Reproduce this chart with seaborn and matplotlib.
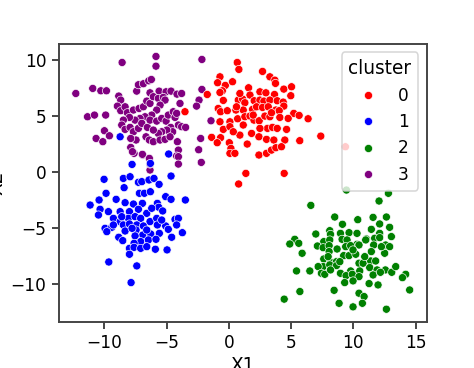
import pandas as pd
import matplotlib
matplotlib.use("Agg")
import matplotlib.pyplot as plt
import seaborn as sns

# cluster points (x1, x2)
cluster_0 = [(0.67, 9.79), (0.8, 9.17), (2.7, 8.99), (3.29, 8.51), (3.69, 8.21), (3.74, 7.92),
             (-0.72, 8.51), (-0.91, 7.98), (-0.29, 7.74), (0.29, 8.07), (-0.53, 7.26), (-0.72, 7.11),
             (-1.74, 6.93), (1.58, 7.53), (1.69, 6.88), (2.49, 7.17), (2.97, 7.08), (3.66, 6.93),
             (4.41, 7.41), (5.03, 7.62), (4.97, 6.82), (-0.45, 6.4), (0.75, 6.43), (1.1, 6.52),
             (1.28, 6.19), (2.03, 6.37), (2.49, 6.43), (2.81, 6.34), (3.29, 6.43), (3.88, 6.37),
             (4.36, 6.25), (4.41, 5.89), (-0.86, 5.68), (-0.67, 5.39), (-0.13, 5.48), (0.56, 5.54),
             (1.15, 5.54), (1.9, 5.6), (2.22, 5.83), (2.7, 5.77), (3.16, 5.83), (3.77, 5.54),
             (4.04, 5.48), (5.21, 5.24), (5.64, 5.06), (6.36, 4.76), (-0.72, 4.49), (0.08, 4.49),
             (0.7, 4.76), (1.28, 4.94), (1.69, 5.0), (2.01, 4.64), (2.43, 4.58), (2.89, 5.0),
             (3.29, 4.94), (3.42, 5.3), (4.09, 4.88), (4.76, 4.79), (-0.45, 3.81), (0.08, 4.05),
             (3.1, 3.9), (3.5, 3.99), (3.88, 3.9), (4.63, 3.81), (0.88, 3.3), (1.82, 3.45),
             (2.41, 3.15), (3.02, 2.92), (3.61, 2.86), (4.49, 2.86), (5.69, 2.8), (7.38, 3.21),
             (-1.39, 3.1), (-0.67, 3.07), (-0.94, 2.62), (0.03, 2.62), (0.16, 2.11), (0.08, 1.67),
             (0.48, 1.67), (1.47, 2.5), (2.41, 1.52), (3.02, 1.67), (3.42, 1.96), (3.77, 2.17),
             (4.22, 2.26), (1.36, -0.12), (4.44, -0.12), (0.78, -1.07), (0.61, 5.83), (0.88, 7.02),
             (1.95, 5.09), (2.49, 3.9), (1.15, 4.2), (0.35, 3.6), (-3.53, 5.39), (9.36, 2.26)]

cluster_1 = [(-4.84, 1.61), (-7.78, 0.68), (-6.31, 0.77), (-4.65, -0.36), (-10.03, -0.65),
             (-8.48, -0.57), (-7.94, -0.42), (-7.27, -0.92), (-7.0, -0.86), (-6.42, -0.71),
             (-6.02, -0.57), (-5.61, -1.1), (-8.42, -1.4), (-7.19, -1.9), (-6.79, -1.9),
             (-6.31, -1.76), (-9.87, -1.9), (-10.43, -2.5), (-11.15, -2.95), (-9.06, -2.44),
             (-10.35, -3.33), (-10.48, -3.84), (-9.68, -3.54), (-8.34, -2.74), (-7.67, -2.86),
             (-6.95, -2.8), (-5.75, -2.8), (-5.08, -2.2), (-4.65, -2.44), (-3.5, -2.5),
             (-8.74, -3.54), (-7.99, -3.54), (-7.27, -3.33), (-6.6, -3.69), (-5.64, -3.15),
             (-5.32, -3.48), (-9.28, -4.14), (-8.74, -4.43), (-8.07, -4.14), (-7.54, -3.99),
             (-7.09, -4.14), (-6.34, -4.43), (-5.8, -4.14), (-9.95, -5.03), (-9.41, -4.94),
             (-8.48, -4.73), (-7.99, -4.64), (-7.4, -4.73), (-6.87, -4.82), (-5.75, -4.73),
             (-5.08, -4.82), (-4.33, -4.23), (-4.06, -4.14), (-4.2, -4.73), (-4.87, -5.12),
             (-3.74, -5.42), (-9.81, -5.33), (-8.34, -5.27), (-7.46, -5.18), (-6.92, -5.63),
             (-6.28, -5.54), (-5.59, -5.48), (-4.6, -5.83), (-8.85, -5.83), (-8.53, -6.13),
             (-7.54, -5.71), (-7.09, -6.22), (-6.47, -6.07), (-5.86, -6.01), (-7.62, -6.37),
             (-7.99, -6.82), (-7.62, -6.73), (-7.09, -6.82), (-6.6, -6.67), (-5.91, -6.9),
             (-4.97, -6.96), (-7.99, -7.35), (-9.65, -8.04), (-7.4, -8.39), (-7.86, -9.88),
             (-8.74, 3.15), (-8.61, -3.99), (-7.78, -5.03), (-6.6, -5.18), (-5.4, -4.29),
             (-6.2, -3.24), (-9.28, -4.73)]

cluster_2 = [(9.44, -1.61), (12.06, -2.59), (12.81, -1.9), (6.58, -2.98), (8.5, -4.02), (10.35, -4.26),
             (11.58, -4.05), (12.65, -4.02), (9.12, -4.67), (12.11, -4.64), (12.91, -4.94), (6.98, -5.54),
             (8.1, -5.24), (8.16, -5.57), (8.96, -5.48), (9.65, -5.42), (10.29, -5.48), (11.44, -5.12),
             (12.11, -5.48), (5.29, -6.01), (4.89, -6.43), (5.61, -6.37), (7.62, -6.22), (8.1, -6.07),
             (9.09, -6.01), (9.49, -6.07), (10.29, -6.46), (11.04, -5.98), (11.71, -5.92), (12.11, -5.86),
             (13.05, -5.77), (7.11, -6.61), (7.57, -6.76), (8.05, -6.58), (8.69, -6.88), (9.38, -6.67),
             (9.78, -6.58), (10.45, -6.52), (10.99, -6.07), (11.63, -6.52), (12.59, -6.52), (12.91, -6.67),
             (5.88, -7.26), (8.05, -7.11), (9.22, -7.47), (9.65, -7.47), (10.19, -7.35), (11.44, -7.11),
             (12.51, -7.26), (7.62, -7.77), (8.16, -8.07), (8.64, -8.01), (10.45, -8.15), (10.78, -8.15),
             (11.39, -7.95), (11.79, -7.95), (7.57, -8.45), (7.17, -8.45), (8.1, -8.3), (8.64, -8.36),
             (9.78, -8.84), (10.51, -8.84), (11.31, -8.54), (11.9, -8.75), (12.57, -8.75), (13.08, -8.96),
             (13.4, -8.45), (5.43, -8.84), (6.5, -8.84), (7.43, -9.05), (7.7, -9.14), (8.16, -8.75),
             (8.96, -9.05), (9.41, -9.26), (9.91, -9.14), (10.45, -9.35), (11.58, -9.2), (12.17, -8.96),
             (14.2, -9.14), (13.94, -9.44), (9.3, -9.88), (9.97, -9.73), (11.26, -9.97), (11.98, -10.09),
             (8.45, -10.57), (10.45, -10.83), (10.86, -11.13), (5.7, -10.68), (4.44, -11.36),
             (14.52, -10.54), (8.85, -11.73), (9.97, -12.05), (10.72, -11.73), (12.65, -12.26),
             (7.97, -7.56), (9.97, -6.96), (10.91, -7.56), (8.91, -8.01), (12.25, -6.67)]

cluster_3 = [(-5.86, 10.33), (-5.86, 9.46), (-8.58, 9.79), (-12.3, 7.02), (-10.94, 7.47), (-10.29, 7.26),
             (-9.84, 7.26), (-7.41, 7.23), (-7.27, 7.8), (-6.87, 7.89), (-6.44, 8.15), (-6.23, 8.27),
             (-6.34, 7.08), (-5.61, 7.23), (-5.05, 7.17), (-4.65, 7.23), (-4.17, 6.96), (-3.8, 7.02),
             (-3.93, 6.13), (-8.85, 6.79), (-8.69, 6.43), (-8.96, 5.89), (-8.69, 5.48), (-8.34, 5.83),
             (-8.16, 5.3), (-7.67, 5.54), (-7.22, 5.68), (-6.87, 5.83), (-6.6, 6.34), (-6.34, 6.13),
             (-6.07, 6.73), (-5.67, 6.58), (-5.27, 6.67), (-5.13, 6.43), (-5.53, 5.98), (-5.8, 5.54),
             (-6.2, 5.09), (-6.74, 4.94), (-7.14, 4.79), (-7.54, 4.64), (-7.99, 4.88), (-8.48, 4.64),
             (-8.61, 4.2), (-8.34, 3.81), (-7.94, 3.99), (-7.67, 3.6), (-7.27, 3.9), (-7.0, 4.35),
             (-6.55, 3.99), (-6.34, 4.64), (-5.8, 4.55), (-5.4, 4.79), (-5.05, 4.55), (-4.87, 5.09),
             (-4.47, 5.39), (-4.33, 4.88), (-4.2, 5.24), (-4.06, 4.2), (-3.8, 4.05), (-3.48, 3.99),
             (-4.68, 3.99), (-4.52, 3.6), (-4.99, 3.75), (-5.4, 3.6), (-5.67, 3.45), (-6.07, 3.75),
             (-6.66, 3.15), (-6.39, 2.86), (-6.07, 2.71), (-5.53, 2.86), (-5.13, 2.92), (-4.73, 3.15),
             (-4.14, 2.71), (-4.06, 1.96), (-4.2, 1.43), (-7.46, 2.86), (-7.89, 3.0), (-7.89, 2.2),
             (-7.62, 1.67), (-6.93, 1.52), (-6.39, 1.22), (-10.0, 3.69), (-9.6, 3.24), (-10.67, 3.0),
             (-10.13, 2.71), (-11.36, 4.94), (-10.8, 5.09), (-9.9, 5.09), (-2.17, 10.06), (-2.17, 7.38),
             (-2.4, 6.43), (-2.6, 5.89), (-1.44, 4.58), (-2.27, 3.0), (-2.43, 1.99), (-2.22, 0.86),
             (-4.06, 1.37), (-4.06, 0.71), (-6.34, 0.18), (-6.34, 0.71), (-7.75, 1.82), (-6.95, 1.58)]

cluster_ids = [0, 1, 2, 3]
cluster_colors = {0: "red", 1: "blue", 2: "green", 3: "purple"}


def build_frame():
    rows = []
    # purple first so the stray red / blue points sit on top of it
    for cid, pts in [(3, cluster_3), (2, cluster_2), (1, cluster_1), (0, cluster_0)]:
        for x1, x2 in pts:
            rows.append({"X1": x1, "X2": x2, "cluster": cid})
    return pd.DataFrame(rows)


df = build_frame()

sns.set_theme(style="ticks", context="talk")
plt.rcParams.update({
    "text.color": "black",
    "axes.labelcolor": "black",
    "xtick.labelcolor": "black",
    "ytick.labelcolor": "black",
    "axes.edgecolor": "#444444",
    "xtick.color": "#444444",
    "ytick.color": "#444444",
    "xtick.major.size": 6.5,
    "ytick.major.size": 6.5,
    "xtick.major.pad": 6,
    "ytick.major.pad": 6,
})

fig = plt.figure(figsize=(474 / 74, 368 / 74), dpi=74)
ax = fig.add_axes([0.125, 0.126, 0.775, 0.755])

sns.scatterplot(data=df, x="X1", y="X2", hue="cluster", hue_order=cluster_ids,
                palette=cluster_colors, s=62, ax=ax)

ax.set_xlim(-13.63, 15.88)
ax.set_ylim(-13.37, 11.46)
ax.set_xticks([-10, -5, 0, 5, 10, 15])
ax.set_yticks([-10, -5, 0, 5, 10])
ax.set_xlabel("X1", labelpad=3)
sns.move_legend(ax, "upper right", title="cluster")

fig.savefig("out.png", dpi=74)
